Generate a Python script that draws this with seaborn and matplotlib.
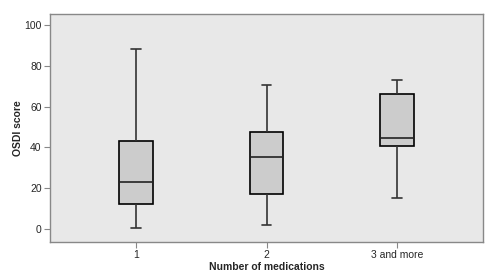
import numpy as np
import pandas as pd
import seaborn as sns
import matplotlib.pyplot as plt

# five-number summaries (min, q1, median, q3, max)
groups = ['1', '2', '3 and more']
g1 = [0.4, 12.3, 23.0, 43.0, 88.0]
g2 = [2.0, 17.2, 35.3, 47.7, 70.6]
g3 = [15.2, 40.6, 44.5, 66.2, 73.0]

df = pd.DataFrame({
    'group': np.repeat(groups, 5),
    'osdi': g1 + g2 + g3,
})

sns.set_style('white')
plt.rcParams['font.family'] = ['Liberation Sans', 'DejaVu Sans']

fig = plt.figure(figsize=(5, 2.79), dpi=100)
ax = fig.add_axes([0.1, 0.133, 0.866, 0.817])
ax.set_facecolor('#e8e8e8')

sns.boxplot(data=df, x='group', y='osdi', order=groups, ax=ax,
            whis=(0, 100), width=0.255, color='#cccccc', saturation=1,
            linecolor='black', linewidth=1.2, capwidths=0.075,
            medianprops={'color': '#222222'},
            whiskerprops={'color': '#333333'},
            capprops={'color': '#333333'})

ax.set_xlim(-0.66, 2.66)
ax.set_ylim(-6.4, 105.4)
ax.set_yticks([0, 20, 40, 60, 80, 100])
for s in ax.spines.values():
    s.set_color('#888888')
    s.set_linewidth(1)
ax.tick_params(axis='both', labelsize=7.5, length=4, color='#888888',
               bottom=True, left=True, pad=2)
ax.set_xlabel('Number of medications', fontsize=7.5, fontweight='bold', labelpad=1)
ax.set_ylabel('OSDI score', fontsize=7.5, fontweight='bold', labelpad=1)

fig.savefig('out.png', dpi=100)
